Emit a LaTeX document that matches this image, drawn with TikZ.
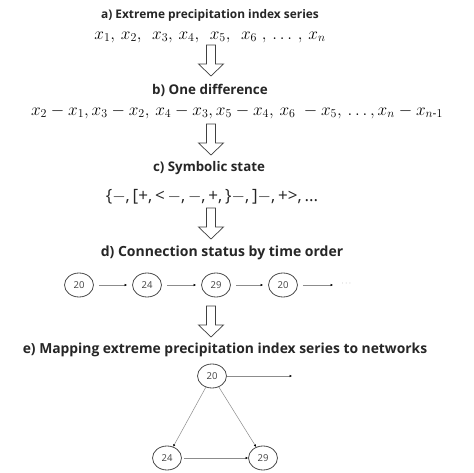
\documentclass[tikz,border=0pt]{standalone}
\usepackage{amsmath}
\usepackage{fontspec}
\setmainfont{Open Sans}
\usetikzlibrary{arrows.meta,shapes.geometric}
\newcommand\mneg{\ensuremath{-}}
\tikzset{
  ttl/.style={font=\bfseries\fontsize{11.9}{13}\selectfont, inner sep=0pt, text=black!85},
  mth/.style={font=\fontsize{17}{20}\selectfont, inner sep=0pt},
  nd/.style={draw=black!70, line width=0.8pt, ellipse, minimum width=29pt, minimum height=24pt, inner sep=0pt, font=\fontsize{9.5}{11}\selectfont, text=black!75},
  con/.style={draw=black!45, line width=0.5pt, -{Latex[length=2.5pt,width=2.5pt,black]}},
  blk/.style={draw=black!75, line width=0.7pt, fill=white},
  pics/downarr/.style={code={
    \draw[blk] (-4.5,0) -- (4.5,0) -- (4.5,19) -- (12.5,19) -- (0,31) -- (-12.5,19) -- (-4.5,19) -- cycle;
  }}
}
\begin{document}
\begin{tikzpicture}[x=1pt,y=-1pt]
\useasboundingbox (0,0) rectangle (474,473);
\fill[white] (0,0) rectangle (474,473);
% a
\node[ttl] (ta) at (210,15) {a) Extreme precipitation index series};
\node[mth] (sa) at (210,37) {$x_1,\, x_2,\;\, x_3,\, x_4,\;\, x_5,\;\, x_6\;,\, \ldots\,,\, x_n$};
\pic at (211,45) {downarr};
% b
\node[ttl, font=\bfseries\fontsize{13.4}{15}\selectfont] (tb) at (210,90) {b) One difference};
\node[mth] (sb) at (237,112) {$x_2 - x_1, x_3 - x_2,\, x_4 - x_3, x_5 - x_4,\, x_6\ - x_5,\, \ldots, x_n - x_{n\text{-}1}$};
\pic at (211,124) {downarr};
% c
\node[ttl, font=\bfseries\fontsize{13.3}{15}\selectfont] (tc) at (209,168) {c) Symbolic state};
\node[font=\fontsize{17}{19}\selectfont, inner sep=0pt, text=black!85] (sc) at (212,197) {\{\mneg,\,[+,\,<\,\mneg,\,\mneg,\,+,\,\}\mneg,\,]\mneg,\,+>,\,...};
\pic at (211,208) {downarr};
% d
\node[ttl, font=\bfseries\fontsize{14}{16}\selectfont] (td) at (222,253) {d) Connection status by time order};
\node[nd] (d1) at (79,285) {20};
\node[nd] (d2) at (147,285) {24};
\node[nd] (d3) at (216,285) {29};
\node[nd] (d4) at (283,285) {20};
\coordinate (d5) at (333,285);
\node[font=\fontsize{8}{9}\selectfont, text=black!40, inner sep=0pt] (dots) at (347,284) {$\cdots$};
\draw[con, shorten <=5pt, shorten >=5pt] (d1) -- (d2);
\draw[con, shorten <=5pt, shorten >=5pt] (d2) -- (d3);
\draw[con, shorten <=5pt, shorten >=5pt] (d3) -- (d4);
\draw[con, shorten <=5pt] (d4) -- (d5);
\pic at (211,306) {downarr};
% e
\node[ttl, font=\bfseries\fontsize{13.85}{16}\selectfont] (te) at (225,350) {e) Mapping extreme precipitation index series to networks};
\node[nd] (e1) at (212,376) {20};
\node[nd] (e2) at (167,458) {24};
\node[nd] (e3) at (263,458) {29};
\coordinate (e4) at (292,376);
\draw[con] (e1) -- (e4);
\draw[con] (e1) -- (e2);
\draw[con] (e1) -- (e3);
\draw[con, shorten <=2pt] (e2) -- (e3);
\end{tikzpicture}
\end{document}
